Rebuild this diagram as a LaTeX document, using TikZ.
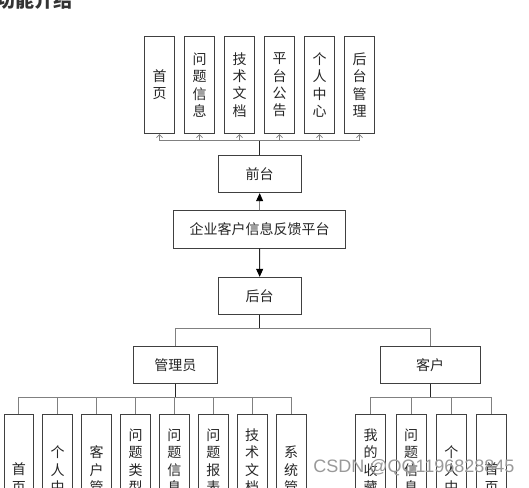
\documentclass[tikz,border=0pt]{standalone}
\usepackage{fontspec}
\setmainfont{Noto Sans CJK SC}
\newfontfamily\wmfont{Liberation Sans}
\usetikzlibrary{arrows.meta}

\begin{document}
\begin{tikzpicture}[x=1pt, y=-1pt,
  box/.style={draw=black!75, line width=0.8pt, fill=white, inner sep=0pt, text=black!85, font=\fontsize{14}{17.3}\selectfont},
  vbox/.style={box, align=center, minimum width=29.5pt, minimum height=97.4pt},
  lbox/.style={box, align=center, minimum width=29.7pt, minimum height=127pt},
  hbox/.style={box, minimum width=83.3pt, minimum height=37.5pt},
  link/.style={draw=black!50, line width=0.8pt},
  stem/.style={draw=black!85, line width=1.2pt}]
\useasboundingbox (0, 0) rectangle (529, 487);

\node[font=\fontsize{19}{19}\selectfont\bfseries, text=black!80] at (34, 0) (title) {功能介绍};

% front end
\node[vbox] at (159.5, 85) (t1) {首\\页};
\node[vbox] at (199.5, 85) (t2) {问\\题\\信\\息};
\node[vbox] at (239.5, 85) (t3) {技\\术\\文\\档};
\node[vbox] at (279.5, 85) (t4) {平\\台\\公\\告};
\node[vbox] at (319.5, 85) (t5) {个\\人\\中\\心};
\node[vbox] at (359.5, 85) (t6) {后\\台\\管\\理};
\node[hbox] at (259.7, 174) (qt) {前台};
\coordinate (tbus) at (259.7, 140.7);
\draw[stem, line width=1.5pt] (qt.north) -- (tbus);
\draw[link, -{Straight Barb[length=3pt, width=6pt]}] (tbus) -| (t1.south);
\draw[link, -{Straight Barb[length=3pt, width=6pt]}] (tbus) -| (t2.south);
\draw[link, -{Straight Barb[length=3pt, width=6pt]}] (tbus) -| (t3.south);
\draw[link, -{Straight Barb[length=3pt, width=6pt]}] (tbus) -| (t4.south);
\draw[link, -{Straight Barb[length=3pt, width=6pt]}] (tbus) -| (t5.south);
\draw[link, -{Straight Barb[length=3pt, width=6pt]}] (tbus) -| (t6.south);

% platform
\node[hbox, minimum width=172.4pt] at (259.5, 229.2) (pt) {企业客户信息反馈平台};
\node[hbox] at (259.7, 296) (ht) {后台};
\draw[link, -{Triangle[length=8pt, width=7pt, color=black]}] (pt.north) -- (qt.south);
\draw[stem, line width=1pt, -{Triangle[length=8pt, width=7pt, color=black]}] (pt.south) -- (ht.north);

% back end
\node[hbox, minimum height=37pt] at (175.3, 364.8) (gly) {管理员};
\node[hbox, minimum width=100.3pt, minimum height=37pt] at (430.2, 364.8) (kh) {客户};
\coordinate (hbus) at (259.7, 328.7);
\draw[stem] (ht.south) -- (hbus);
\draw[link] (hbus) -| (gly.north);
\draw[link] (hbus) -| (kh.north);

\node[lbox] at (18.8, 478.2) (a1) {首\\页};
\node[lbox] at (57.7, 478.2) (a2) {个\\人\\中\\心};
\node[lbox] at (96.6, 478.2) (a3) {客\\户\\管\\理};
\node[lbox] at (135.5, 478.2) (a4) {问\\题\\类\\型\\管\\理};
\node[lbox] at (174.4, 478.2) (a5) {问\\题\\信\\息\\管\\理};
\node[lbox] at (213.3, 478.2) (a6) {问\\题\\报\\表\\管\\理};
\node[lbox] at (252.2, 478.2) (a7) {技\\术\\文\\档\\管\\理};
\node[lbox] at (291.1, 478.2) (a8) {系\\统\\管\\理};
\coordinate (abus) at (175.3, 397.3);
\draw[stem] (gly.south) -- (abus);
\draw[link] (abus) -| (a1.north);
\draw[link] (abus) -| (a2.north);
\draw[link] (abus) -| (a3.north);
\draw[link] (abus) -| (a4.north);
\draw[link] (abus) -| (a5.north);
\draw[link] (abus) -| (a6.north);
\draw[link] (abus) -| (a7.north);
\draw[link] (abus) -| (a8.north);

\node[lbox] at (370.7, 478.2) (c1) {我\\的\\收\\藏\\管\\理};
\node[lbox] at (411.1, 478.2) (c2) {问\\题\\信\\息\\管\\理};
\node[lbox] at (451.3, 478.2) (c3) {个\\人\\中\\心};
\node[lbox] at (491.5, 478.2) (c4) {首\\页};
\coordinate (cbus) at (430.2, 397.7);
\draw[stem] (kh.south) -- (cbus);
\draw[link] (cbus) -| (c1.north);
\draw[link] (cbus) -| (c2.north);
\draw[link] (cbus) -| (c3.north);
\draw[link] (cbus) -| (c4.north);

\node[font=\wmfont\fontsize{18}{18}\selectfont, text=black!40] at (414, 468) (wm) {CSDN @QQ1196828845};
\end{tikzpicture}
\end{document}
